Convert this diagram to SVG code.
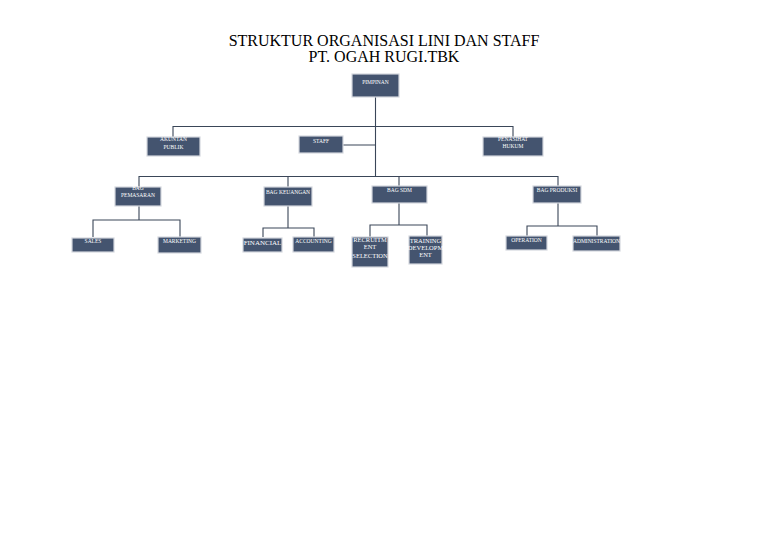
<svg xmlns="http://www.w3.org/2000/svg" width="768" height="543" viewBox="0 0 768 543">
<style>
.b{fill:#44546f;stroke:#d4d8de;stroke-width:1.2}
.t{fill:#fff;font-family:"Liberation Serif",serif;font-size:5.5px;text-anchor:middle}
.ln{stroke:#3a4658;stroke-width:1.1;fill:none}
.h{font-family:"Liberation Serif",serif;font-size:16px;text-anchor:middle;fill:#000}
</style>
<rect width="768" height="543" fill="#fff"/>
<text class="h" x="384" y="46">STRUKTUR ORGANISASI LINI DAN STAFF</text>
<text class="h" x="384" y="62">PT. OGAH RUGI.TBK</text>
<g id="connectors" class="ln">
<path d="M375.5 97V176.5"/>
<path d="M173 137V126.5H513V137"/>
<path d="M343 145H375.5"/>
<path d="M139 187V176.5H558V186"/>
<path d="M288 176.5V187M399 176.5V186"/>
<path d="M139 206V220M93 237V220H180V237"/>
<path d="M288 206V228M263 237V228H314V237"/>
<path d="M399 203V225M370 237V225H427V236"/>
<path d="M558 203V226M527 236V226H597V236"/>
</g>
<g id="pimpinan"><rect class="b" x="352" y="74" width="47" height="23"/><text class="t" x="375.5" y="84">PIMPINAN</text></g>
<g id="akuntan"><rect class="b" x="147" y="137" width="53" height="19"/><text class="t" x="173.5" y="141">AKUNTAN</text><text class="t" x="173.5" y="149">PUBLIK</text></g>
<g id="staff"><rect class="b" x="299" y="136" width="44" height="17"/><text class="t" x="321" y="143">STAFF</text></g>
<g id="penasihat"><rect class="b" x="483" y="137" width="60" height="19"/><text class="t" x="513" y="141">PENASIHAT</text><text class="t" x="513" y="148">HUKUM</text></g>
<g id="pemasaran"><rect class="b" x="115" y="187" width="46" height="19"/><text class="t" x="138" y="190">BAG</text><text class="t" x="138" y="197">PEMASARAN</text></g>
<g id="keuangan"><rect class="b" x="264" y="187" width="48" height="19"/><text class="t" x="288" y="194">BAG  KEUANGAN</text></g>
<g id="sdm"><rect class="b" x="372" y="186" width="55" height="17"/><text class="t" x="399.5" y="192">BAG  SDM</text></g>
<g id="produksi"><rect class="b" x="533" y="186" width="48" height="17"/><text class="t" x="557" y="192">BAG  PRODUKSI</text></g>
<g id="sales"><rect class="b" x="72" y="238" width="42" height="14"/><text class="t" x="93" y="243">SALES</text></g>
<g id="marketing"><rect class="b" x="158" y="237" width="43" height="16"/><text class="t" x="179.5" y="243">MARKETING</text></g>
<g id="financial"><rect class="b" x="243" y="238" width="39" height="14"/><text class="t" x="262.5" y="244.5" style="font-size:7px">FINANCIAL</text></g>
<g id="accounting"><rect class="b" x="293" y="237" width="41" height="15"/><text class="t" x="313.5" y="243">ACCOUNTING</text></g>
<g id="recruitment"><rect class="b" x="352" y="237" width="36" height="30"/><text class="t" x="370" y="242" style="font-size:6.5px">RECRUITM</text><text class="t" x="370" y="249" style="font-size:6.5px">ENT</text><text class="t" x="370" y="258" style="font-size:6.5px">SELECTION</text></g>
<g id="training"><rect class="b" x="409" y="236" width="33" height="28"/><text class="t" x="425.5" y="243" style="font-size:6.5px">TRAINING</text><text class="t" x="425.5" y="250" style="font-size:6.5px">DEVELOPM</text><text class="t" x="425.5" y="257" style="font-size:6.5px">ENT</text></g>
<g id="operation"><rect class="b" x="506" y="236" width="41" height="14"/><text class="t" x="526.5" y="242">OPERATION</text></g>
<g id="administration"><rect class="b" x="573" y="236" width="47" height="15"/><text class="t" x="596.5" y="243">ADMINISTRATION</text></g>
</svg>
